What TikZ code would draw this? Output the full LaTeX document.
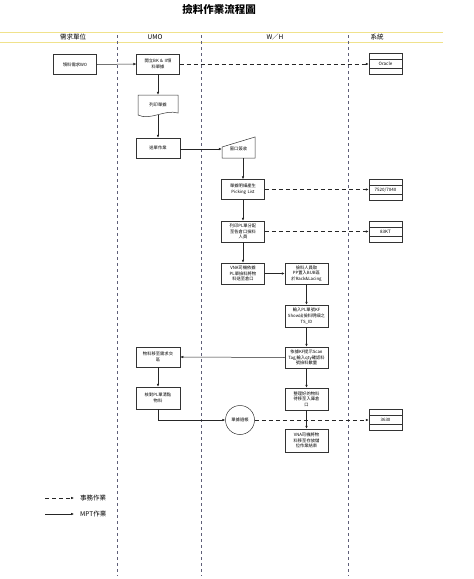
\documentclass[tikz,border=0pt]{standalone}
\usepackage{fontspec}
\newfontfamily\cjk{Noto Sans CJK TC}
\usetikzlibrary{arrows.meta}
\definecolor{bandyellow}{RGB}{240,226,140}
\definecolor{lanegray}{RGB}{95,95,120}
\begin{document}
\begin{tikzpicture}[x=1pt,y=-1pt,
  box/.style={draw=black!80, line width=0.5pt, fill=white, minimum width=43pt,
    minimum height=20pt, text width=42pt, align=center, inner sep=0.3pt,
    font=\cjk\fontsize{4.3}{5.6}\selectfont},
  sysbox/.style={draw=black!80, line width=0.5pt, fill=white, minimum width=33pt,
    minimum height=21pt, inner sep=0pt, font=\cjk\fontsize{4.5}{5.5}\selectfont,
    path picture={
      \draw[black!80, line width=0.5pt]
        ([yshift=-6pt]path picture bounding box.north west) -- ([yshift=-6pt]path picture bounding box.north east)
        ([yshift=6pt]path picture bounding box.south west) -- ([yshift=6pt]path picture bounding box.south east);}},
  plain/.style={draw=none, text width=38pt, align=center, inner sep=0pt,
    font=\cjk\fontsize{4.3}{5.6}\selectfont},
  flow/.style={-{Latex[length=3pt,width=2.6pt]}, line width=0.5pt, draw=black!85},
  dflow/.style={flow, dash pattern=on 4pt off 3pt},
  lane/.style={draw=lanegray, line width=0.6pt, dash pattern=on 3pt off 3pt},
  head/.style={font=\cjk\fontsize{6.5}{7}\selectfont, inner sep=0pt},
  legend/.style={font=\cjk\fontsize{6.5}{7}\selectfont, inner sep=0pt, anchor=west}
]
\useasboundingbox (0,0) rectangle (474,579);
\fill[white] (0,0) rectangle (474,579);

% title
\node[font=\cjk\bfseries\fontsize{10.5}{11}\selectfont, inner sep=0pt] (title) at (219,9) {撿料作業流程圖};

% header band
\draw[bandyellow, line width=1pt] (0,32.3) -- (443,32.3);
\draw[bandyellow, line width=1pt] (0,42.7) -- (443,42.7);
\node[head] (h1) at (73,37.5) {需求單位};
\node[head] (h2) at (155,37.5) {UMO};
\node[head] (h3) at (275,37.5) {W／H};
\node[head] (h4) at (377,37.5) {系統};

% lane separators
\draw[lane] (117,35) -- (117,576);
\draw[lane] (201.5,35) -- (201.5,576);
\draw[lane] (348.5,35) -- (348.5,576);

% nodes
\node[box] (wo) at (75,64.5) {領料需求WO};
\node[box, minimum width=41pt] (bk) at (158,64) {開立BK \& II領\\料單據};
\node[plain, minimum width=40pt, minimum height=20pt] (doc) at (158,105) {列印單據};
\draw[black!80, line width=0.5pt] (138,115) -- (138,95) -- (178,95) -- (178,113)
   .. controls (165,109) and (150,121) .. (138,115);
\node[box, minimum width=44pt] (send) at (158,148) {送單作業};
\node[plain, text width=30pt, minimum width=33pt, minimum height=18pt] (trap) at (238.5,149) {\raisebox{-1.5pt}{窗口簽收}};
\draw[black!80, line width=0.5pt] (222,147) -- (255,137) -- (255,158) -- (222,158) -- cycle;

\node[box] (pick) at (243,189.5) {單據明細產生\\Picking List};
\node[box, minimum height=21pt] (prt) at (243,231.5) {列印PL單分配\\至各倉口撿料\\人員};
\node[box, minimum height=21pt] (vna) at (243,273.5) {VNA司機依據\\PL單撿料將物\\料送至倉口};
\node[box, minimum height=21pt] (pp) at (306.5,273.5) {撿料人員取\\PP置入BUB區\\於Rack\&Lacing};
\node[box, minimum height=22pt] (kfin) at (306.5,316) {輸入PL單號KF\\Show出撿料明細之\\TS\_ID};
\node[box, minimum height=21pt] (kf) at (306.5,357.5) {依據KF提示Scan\\Tag,輸入qty確認料\\號撿料數量};
\node[box, minimum height=22pt] (arr) at (306.5,399) {整理好的物料\\待移至入庫倉\\口};
\node[box, minimum height=23pt] (vna2) at (306.5,440.5) {VNA司機將物\\料移至存放儲\\位作業結束};
\node[box, minimum width=44pt] (move) at (158,357) {物料移至需求交\\區};
\node[box, minimum width=44pt, minimum height=22pt] (check) at (158,398) {核對PL單清點\\物料};
\node[draw=black!80, line width=0.5pt, circle, minimum size=29pt, inner sep=0pt, fill=white,
      font=\cjk\fontsize{4.3}{5}\selectfont] (post) at (240,420) {單據過帳};

\node[sysbox] (s1) at (385.5,64) {Oracle};
\node[sysbox] (s2) at (385.5,190) {7520/7040};
\node[sysbox] (s3) at (385.5,231.5) {83KT};
\node[sysbox] (s4) at (385.5,420) {3630};

% solid connectors
\draw[flow] (wo.east) -- (bk.west);
\draw[flow] (bk.south) -- (doc.north);
\draw[flow] (doc.south) -- (send.north);
\draw[flow] ([yshift=-1pt]send.east) -- ([yshift=-1pt]send.east -| trap.west);
\draw[flow] (pick.north |- trap.south) -- (pick.north);
\draw[flow] (pick.south) -- (prt.north);
\draw[flow] (prt.south) -- (vna.north);
\draw[flow] (vna.east) -- (pp.west);
\draw[flow] (pp.south) -- (kfin.north);
\draw[flow] (kfin.south) -- (kf.north);
\draw[flow] (kf.west) -- (move.east);
\draw[flow] (kf.south) -- (arr.north);
\draw[flow] (move.south) -- (check.north);
\draw[flow] (check.south) |- (post.west);

% dashed connectors
\draw[dflow] (bk.east) -- (s1.west);
\draw[dflow] (pick.east) -- (pick.east -| s2.west);
\draw[dflow] (prt.east) -- (s3.west);
\draw[dflow] (post.east) -- (s4.west);
\draw[flow] (arr.south) -- (vna2.north);

% legend
\coordinate (la1) at (45,498);
\coordinate (la2) at (74,498);
\coordinate (lb1) at (45,514);
\coordinate (lb2) at (74,514);
\node[legend] (lt1) at (80,498) {事務作業};
\node[legend] (lt2) at (80,514) {MPT作業};
\draw[dflow] (la1) -- (la2);
\draw[flow] (lb1) -- (lb2);
\end{tikzpicture}
\end{document}
